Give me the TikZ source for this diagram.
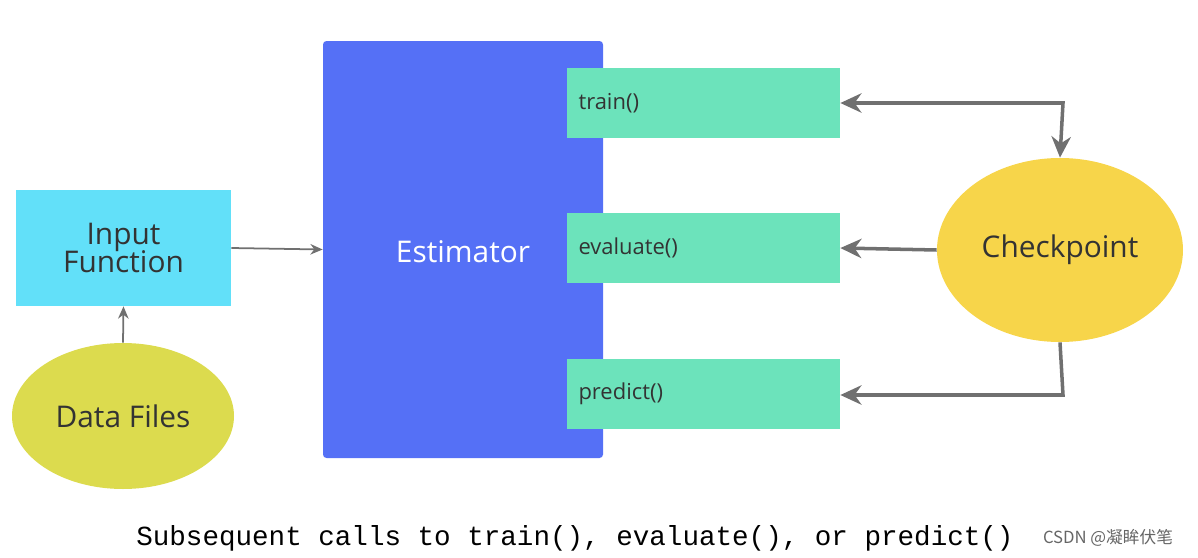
\documentclass[tikz,border=0pt]{standalone}
\usepackage{fontspec}
\setmainfont{Open Sans}
\newfontfamily\monof{Liberation Mono}
\newfontfamily\cjk{Noto Sans CJK SC}
\usetikzlibrary{shapes.geometric,arrows.meta}
\definecolor{cyanb}{HTML}{62E0F9}
\definecolor{dataf}{HTML}{DCDB4E}
\definecolor{estb}{HTML}{5570F6}
\definecolor{fnb}{HTML}{6CE3BB}
\definecolor{ckp}{HTML}{F7D54A}
\definecolor{arr}{HTML}{707070}
\begin{document}
\begin{tikzpicture}[x=0.02cm,y=-0.02cm,
  thin arrow/.style={draw=arr,line width=1pt,-{Stealth[length=7pt,width=6pt]}},
  thick arrow/.style={draw=arr,line width=2pt,-{Stealth[length=12pt,width=11pt]}},
  fnbox/.style={fill=fnb,minimum width=273*0.02cm,minimum height=70*0.02cm,text width=250*0.02cm,align=left,font=\fontsize{12.5}{14}\selectfont,text=black!80},
  bigtext/.style={font=\fontsize{17}{19}\selectfont,text=black!80}]
\useasboundingbox (0,0) rectangle (1198,558);
\node[fill=cyanb,minimum width=215*0.02cm,minimum height=116*0.02cm,align=center,bigtext] (inp) at (123.5,248) {Input\\[-3pt]Function};
\node[ellipse,fill=dataf,minimum width=222*0.02cm,minimum height=146*0.02cm,bigtext] (data) at (123,416) {Data Files};
\node[fill=estb,rounded corners=2pt,minimum width=280*0.02cm,minimum height=417*0.02cm] (est) at (463,249.5) {};
\node[font=\fontsize{17}{19}\selectfont,text=white] (estl) at (463,252) {Estimator};
\node[fnbox] (train) at (703.5,103) {train()};
\node[fnbox] (eval) at (703.5,248) {evaluate()};
\node[fnbox] (pred) at (703.5,394) {predict()};
\node[ellipse,fill=ckp,minimum width=246*0.02cm,minimum height=184*0.02cm,bigtext] (ck) at (1060,250) {Checkpoint};
\draw[thin arrow] (data.north) -- (inp.south);
\draw[thin arrow] (inp.east) -- (est.west);
\coordinate (c1) at (1063,103);
\coordinate (c2) at (1063,395);
\draw[thick arrow,{Stealth[length=12pt,width=11pt]}-{Stealth[length=12pt,width=11pt]}] (train.east) -- (c1) -- (ck.north);
\draw[thick arrow] (ck.west) -- (eval.east);
\draw[thick arrow] (ck.south) -- (c2) -- (pred.east |- c2);
\node[font=\monof\fontsize{15.7}{17}\selectfont] (cap) at (575,538) {Subsequent calls to train(), evaluate(), or predict()};
\node[font=\cjk\fontsize{9.5}{11}\selectfont,text=black!60] (wm) at (1108,538) {CSDN @凝眸伏笔};
\end{tikzpicture}
\end{document}
